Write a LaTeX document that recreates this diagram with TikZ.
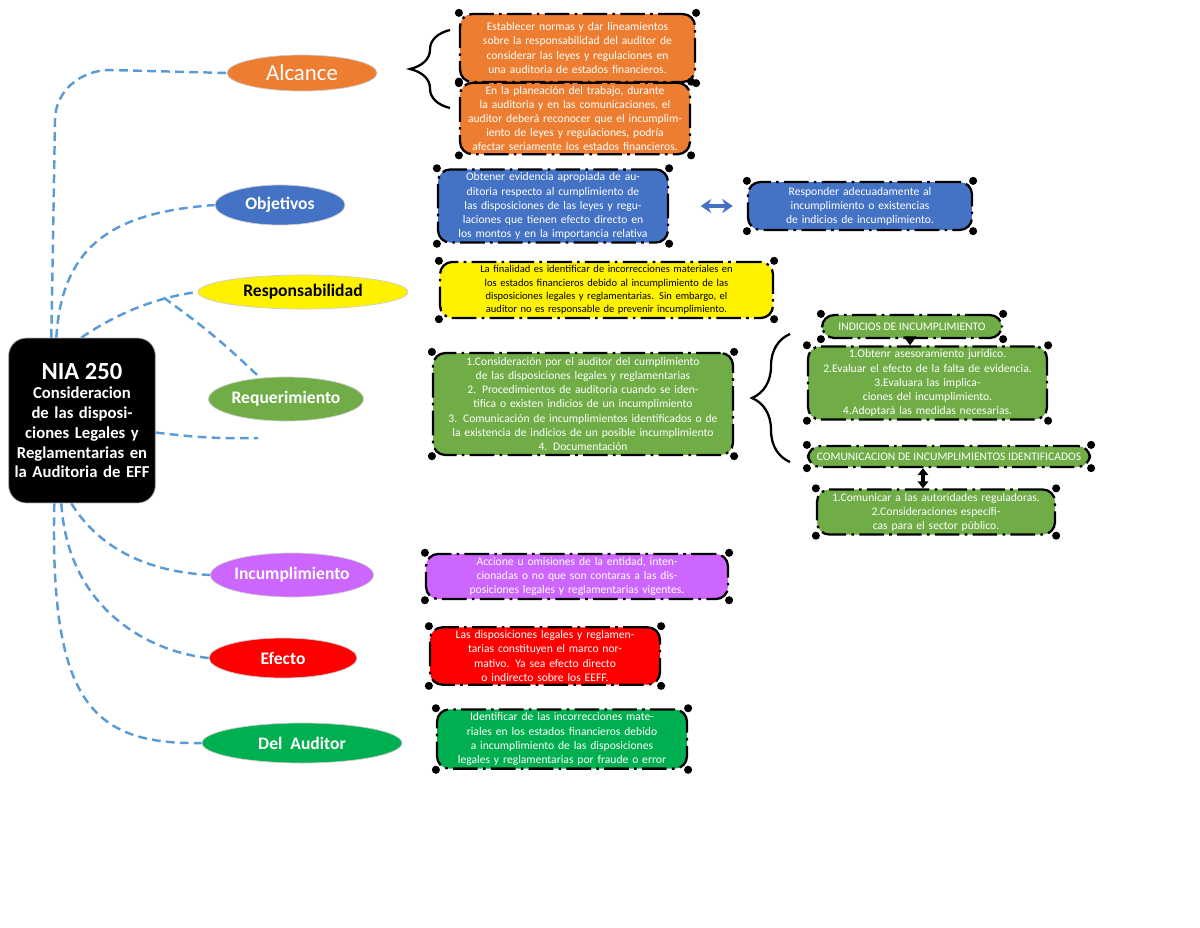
\documentclass[tikz,border=0pt]{standalone}
\usepackage{fontspec}
\setmainfont{Carlito}
\usetikzlibrary{shapes.geometric,decorations.pathreplacing,arrows.meta,calc}
\definecolor{cOrange}{HTML}{ED7D31}
\definecolor{cBlue}{HTML}{4472C4}
\definecolor{cGreen}{HTML}{70AD47}
\definecolor{cLeaf}{HTML}{00B050}
\definecolor{cPurple}{HTML}{CC66FF}
\definecolor{cLink}{HTML}{5B9BD5}
\tikzset{
  box/.style={rectangle, rounded corners=7pt, draw=black, line width=1.3pt,
    dash pattern=on 14pt off 3pt on 1.5pt off 3pt, text=white, align=center,
    inner sep=2pt, font=\fontsize{6.6}{8}\selectfont},
  topic/.style={ellipse, draw=gray!40, text=white, inner sep=0pt,
    font=\fontsize{10}{12}\selectfont\bfseries},
  link/.style={cLink, line width=1.4pt, dash pattern=on 5pt off 3pt},
  corner/.style={fill=black},
}
\begin{document}
\begin{tikzpicture}[x=0.02cm, y=-0.02cm]
    \useasboundingbox (0,0) rectangle (1200,927);

    % Central node
    \node[rectangle, rounded corners=10pt, fill=black, draw=gray!60, text=white,
      minimum width=2.8cm, minimum height=3.3cm, text width=2.7cm, align=center,
      font=\fontsize{9.5}{11.2}\selectfont\bfseries] (nia) at (82,420.5)
      {{\fontsize{14}{17}\selectfont NIA 250}\\Consideracion de las disposiciones Legales y Reglamentarias en la Auditoria de EFF};

    % Topics
    \node[topic, fill=cOrange, minimum width=3cm, minimum height=0.72cm,
      font=\fontsize{13}{15}\selectfont] (alc) at (302,73) {Alcance};
    \node[topic, fill=cBlue, minimum width=2.6cm, minimum height=0.8cm] (obj) at (280,205) {Objetivos};
    \node[topic, fill=yellow, text=black, minimum width=4.2cm, minimum height=0.68cm] (resp) at (303,292) {Responsabilidad};
    \node[topic, fill=cGreen, minimum width=3.1cm, minimum height=0.88cm] (req) at (286,399) {Requerimiento};
    \node[topic, fill=cPurple, minimum width=3.1cm, minimum height=0.88cm] (inc) at (292,575) {Incumplimiento};
    \node[topic, fill=red, minimum width=2.96cm, minimum height=0.8cm] (efe) at (283,658) {Efecto};
    \node[topic, fill=cLeaf, minimum width=4cm, minimum height=0.8cm] (aud) at (302,743) {Del\ \ Auditor};

    % Detail boxes
    \node[box, fill=cOrange, minimum width=4.7cm, minimum height=1.36cm, text width=4.4cm] (alcA) at (577.5,48)
      {Establecer normas y dar lineamientos sobre la responsabilidad del auditor de considerar las leyes y regulaciones en una auditoria de estados financieros.};
    \node[box, fill=cOrange, minimum width=4.6cm, minimum height=1.38cm, text width=4.3cm] (alcB) at (575,118.5)
      {En la planeación del trabajo, durante la auditoria y en las comunicaciones, el auditor deberá reconocer que el incumplimiento de leyes y regulaciones, podría afectar seriamente los estados financieros.};
    \node[box, fill=cBlue, minimum width=4.6cm, minimum height=1.44cm, text width=4.3cm] (objA) at (553,206)
      {Obtener evidencia apropiada de auditoria respecto al cumplimiento de las disposiciones de las leyes y regulaciones que tienen efecto directo en los montos y en la importancia relativa};
    \node[box, fill=cBlue, minimum width=4.48cm, minimum height=0.96cm, text width=4.2cm] (objB) at (860,206)
      {Responder adecuadamente al incumplimiento o existencias de indicios de incumplimiento.};
    \node[box, fill=yellow, text=black, minimum width=6.66cm, minimum height=1cm, text width=6.5cm,
      font=\fontsize{6}{7.6}\selectfont] (respA) at (606.5,290)
      {La finalidad es identificar de incorrecciones materiales en los estados financieros debido al incumplimiento de las disposiciones legales y reglamentarias. Sin embargo, el auditor no es responsable de prevenir incumplimiento.};
    \node[box, fill=cGreen, minimum width=6cm, minimum height=2.04cm, text width=5.8cm] (reqA) at (583,404)
      {1.Consideración por el auditor del cumplimiento de las disposiciones legales y reglamentarias\\
       2. Procedimientos de auditoria cuando se identifica o existen indicios de un incumplimiento\\
       3. Comunicación de incumplimientos identificados o de la existencia de indicios de un posible incumplimiento\\
       4. Documentación};
    \node[box, fill=cGreen, minimum width=3.6cm, minimum height=0.46cm] (ind) at (912,326.5)
      {INDICIOS DE INCUMPLIMIENTO};
    \node[box, fill=cGreen, minimum width=4.78cm, minimum height=1.24cm, text width=4.6cm] (indA) at (927.5,383)
      {1.Obtenr asesoramiento jurídico.\\2.Evaluar el efecto de la falta de evidencia.\\3.Evaluara las implicaciones del incumplimiento.\\4.Adoptará las medidas necesarias.};
    \node[box, fill=cGreen, minimum width=5.64cm, minimum height=0.42cm] (com) at (949,456.5)
      {COMUNICACION DE INCUMPLIMIENTOS IDENTIFICADOS};
    \node[box, fill=cGreen, minimum width=4.76cm, minimum height=0.8cm, text width=4.6cm] (comA) at (936,512)
      {1.Comunicar a las autoridades reguladoras.\\2.Consideraciones específicas para el sector público.};
    \node[box, fill=cPurple, minimum width=6.04cm, minimum height=0.9cm, text width=5.6cm] (incA) at (577,576.5)
      {Accione u omisiones de la entidad, intencionadas o no que son contaras a las disposiciones legales y reglamentarias vigentes.};
    \node[box, fill=red, minimum width=4.6cm, minimum height=1.04cm, text width=3.8cm] (efeA) at (545,656)
      {Las disposiciones legales y reglamentarias constituyen el marco normativo. Ya sea efecto directo o indirecto sobre los EEFF.};
    \node[box, fill=cLeaf, minimum width=5cm, minimum height=1.04cm, text width=4.6cm] (audA) at (562,739)
      {Identificar de las incorrecciones materiales en los estados financieros debido a incumplimiento de las disposiciones legales y reglamentarias por fraude o error};

    % Corner dots
    \foreach \n in {alcA,alcB,objA,objB,respA,reqA,ind,indA,com,comA,incA,efeA,audA}
      \foreach \a in {north west,north east,south west,south east}
        \fill[corner] (\n.\a) circle (2.3pt);

    % Links from the central node
    \draw[link] ($(nia.north west)+(43,0)$) -- (55,120) to[out=90,in=180] (110,70) -- (alc.west);
    \draw[link] ($(nia.north west)+(48,0)$) .. controls (62,240) and (120,212) .. (obj.west);
    \draw[link] ($(nia.north west)+(73,0)$) .. controls (110,318) and (150,298) .. (resp.west);
    \draw[link] ($(nia.north east)+(8,-40)$) to[bend left=4] ($(req.west)+(50,-23)$);
    \draw[link] ($(nia.east)+(0,12)$) to[bend right=4] ($(req.west)+(50,39)$);
    \draw[link] ($(nia.south west)+(63,0)$) .. controls (100,550) and (150,572) .. (inc.west);
    \draw[link] ($(nia.south west)+(53,0)$) .. controls (68,610) and (150,652) .. (efe.west);
    \draw[link] ($(nia.south west)+(46,0)$) .. controls (50,700) and (90,745) .. (aud.west);

    % Braces
    \coordinate (b1) at (450,108);
    \coordinate (b2) at (450,30);
    \draw[line width=1.3pt, decorate, decoration={brace, amplitude=0.8cm}] (b1) -- (b2);
    \coordinate (b3) at (790,462);
    \coordinate (b4) at (790,334);
    \draw[line width=1.3pt, decorate, decoration={brace, amplitude=0.76cm}] (b3) -- (b4);

    % Arrows
    \draw[{Stealth[length=6pt,width=8pt]}-{Stealth[length=6pt,width=8pt]}, cBlue, line width=2pt,
      shorten <=18pt, shorten >=8pt] (objA) -- (objB);
    \draw[-{Triangle[length=5pt,width=7pt]}, line width=1.5pt] ($(ind.south)+(-2,0)$) -- ($(indA.north)+(-17.5,0)$);
    \draw[{Triangle[length=4pt,width=6pt]}-{Triangle[length=4pt,width=6pt]}, line width=1.8pt]
      ($(com.south)+(-26,0)$) -- ($(comA.north)+(-13,0)$);
\end{tikzpicture}
\end{document}
